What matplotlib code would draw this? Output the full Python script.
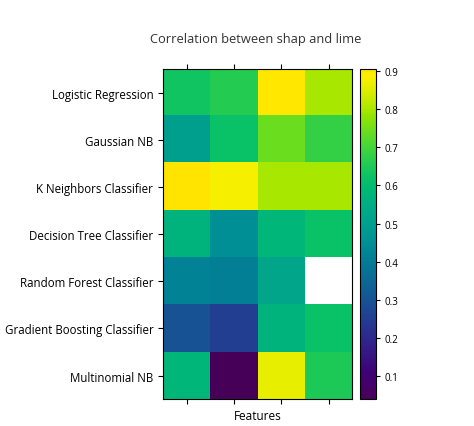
import numpy as np
import matplotlib
matplotlib.use("Agg")
import matplotlib.pyplot as plt
from matplotlib.colors import ListedColormap, rgb_to_hsv, hsv_to_rgb

models = ["Logistic Regression", "Gaussian NB", "K Neighbors Classifier",
          "Decision Tree Classifier", "Random Forest Classifier",
          "Gradient Boosting Classifier", "Multinomial NB"]
lr = [0.63, 0.66, 0.90, 0.80]
gnb = [0.50, 0.62, 0.74, 0.68]
knn = [0.905, 0.88, 0.80, 0.80]
dt = [0.57, 0.45, 0.58, 0.62]
rf = [0.42, 0.41, 0.52, np.nan]
gb = [0.30, 0.25, 0.57, 0.62]
mnb = [0.58, 0.04, 0.86, 0.65]
cbar_ticks = [0.1, 0.2, 0.3, 0.4, 0.5, 0.6, 0.7, 0.8, 0.9]

data = np.array([lr, gnb, knn, dt, rf, gb, mnb])

# reference image looks a bit more saturated than plain viridis
base = plt.get_cmap('viridis')(np.linspace(0, 1, 256))[:, :3]
hsv = rgb_to_hsv(base)
hsv[:, 1] = np.clip(hsv[:, 1] * 1.35, 0, 1)
hsv[:, 2] = np.clip(hsv[:, 2] * 1.05, 0, 1)
cmap = ListedColormap(hsv_to_rgb(hsv))

plt.rcParams['font.family'] = ['Open Sans', 'DejaVu Sans']
fig = plt.figure(figsize=(4.74, 4.27), dpi=100)
ax = fig.add_axes([0.344, 0.063, 0.399, 0.773])
cax = fig.add_axes([0.759, 0.063, 0.034, 0.773])

im = ax.imshow(data, cmap=cmap, aspect='auto', interpolation='nearest')
ax.set_xticks(np.arange(data.shape[1]))
ax.set_xticklabels([])
ax.tick_params(axis='x', top=True, length=3.5)
ax.set_yticks(np.arange(len(models)))
ax.set_yticklabels(models, fontsize=8.3)
ax.tick_params(axis='y', length=3.5)
ax.set_xlabel("Features", fontsize=8.5, labelpad=0)
fig.text(0.54, 0.908, "Correlation between shap and lime", ha='center',
         va='center', fontsize=9.3, color='#333333')

cb = fig.colorbar(im, cax=cax, ticks=cbar_ticks)
cb.ax.tick_params(labelsize=7, length=3)
cb.outline.set_linewidth(0.8)

fig.savefig("out.png", dpi=100)
